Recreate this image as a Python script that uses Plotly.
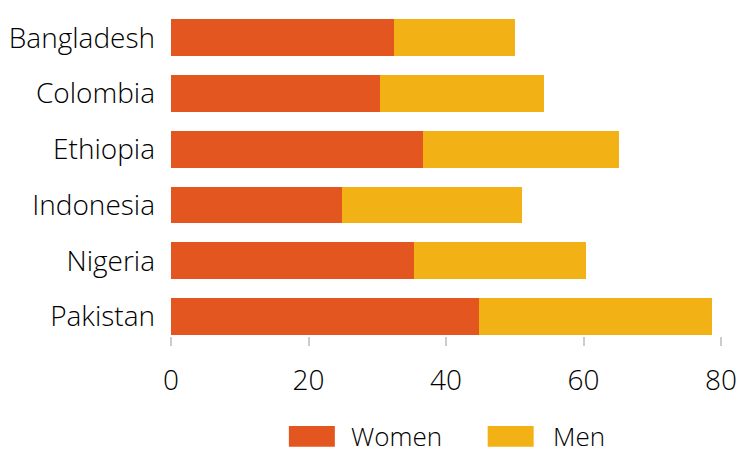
import plotly.graph_objects as go

countries = ["Bangladesh", "Colombia", "Ethiopia", "Indonesia", "Nigeria", "Pakistan"]
women = [32.4, 30.4, 36.6, 24.8, 35.4, 44.8]
men = [17.6, 23.8, 28.6, 26.3, 24.9, 33.9]
x_ticks = [0, 20, 40, 60, 80]

WOMEN_COLOR = "#E3561F"
MEN_COLOR = "#F2B215"
FONT = "Open Sans"
TEXT_COLOR = "#000000"
WEIGHT = 350

fig = go.Figure()
fig.add_trace(go.Bar(y=countries, x=women, orientation="h", name="Women",
                     marker=dict(color=WOMEN_COLOR, line=dict(width=0))))
fig.add_trace(go.Bar(y=countries, x=men, orientation="h", name="Men",
                     marker=dict(color=MEN_COLOR, line=dict(width=0))))

# page body has an 8px margin, so the figure is 8px smaller and offsets are reduced
fig.update_layout(
    barmode="stack",
    bargap=0.34,
    width=747, height=464,
    margin=dict(l=163, r=33.5, t=1.6, b=136),
    paper_bgcolor="white", plot_bgcolor="white",
    showlegend=False,
    font=dict(family=FONT, color=TEXT_COLOR, weight=WEIGHT),
)
fig.update_xaxes(range=[0, 80], tickvals=x_ticks, ticks="outside", ticklen=9,
                 tickwidth=1.5, tickcolor="#cccccc", showgrid=False, zeroline=False,
                 showline=False, ticklabelstandoff=10,
                 tickfont=dict(size=28, family=FONT, color=TEXT_COLOR, weight=WEIGHT))
fig.update_yaxes(range=[5.35, -0.5], showgrid=False, showline=False, ticks="",
                 ticklabelstandoff=15,
                 tickfont=dict(size=28, family=FONT, color=TEXT_COLOR, weight=WEIGHT))

# custom legend (paper coordinates relative to plot area)
legend_items = [("Women", WOMEN_COLOR, 0.2143, 0.2979, 0.3233),
                ("Men", MEN_COLOR, 0.5758, 0.6594, 0.6903)]
for label, color, x0, x1, xt in legend_items:
    fig.add_shape(type="rect", xref="paper", yref="paper", x0=x0, x1=x1,
                  y0=-0.3401, y1=-0.2757, fillcolor=color, line=dict(width=0))
    fig.add_annotation(xref="paper", yref="paper", x=xt, y=-0.3064, text=label,
                       showarrow=False, xanchor="left", yanchor="middle",
                       font=dict(size=26, family=FONT, color=TEXT_COLOR, weight=WEIGHT))

fig.write_html("out.html")
